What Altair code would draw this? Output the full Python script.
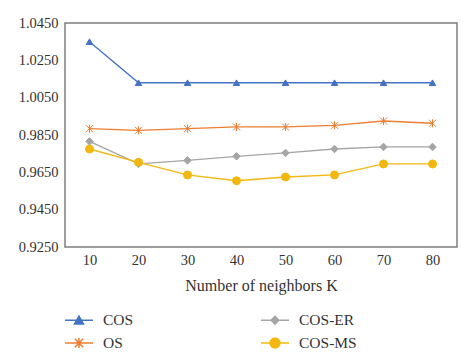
import altair as alt
import pandas as pd

k_values = [10, 20, 30, 40, 50, 60, 70, 80]
cos_vals = [1.0350, 1.0130, 1.0130, 1.0130, 1.0130, 1.0130, 1.0130, 1.0130]
os_vals = [0.9884, 0.9875, 0.9884, 0.9893, 0.9893, 0.9902, 0.9925, 0.9913]
cos_er_vals = [0.9816, 0.9695, 0.9714, 0.9736, 0.9754, 0.9775, 0.9786, 0.9786]
cos_ms_vals = [0.9775, 0.9704, 0.9636, 0.9605, 0.9625, 0.9636, 0.9695, 0.9695]

series_names = ["COS", "OS", "COS-ER", "COS-MS"]
series_colors = ["#4472C4", "#ED7D31", "#A5A5A5", "#F2B80F"]
y_ticks = [0.9250, 0.9450, 0.9650, 0.9850, 1.0050, 1.0250, 1.0450]

# marker styles for plot
marker_shapes = ["triangle-up", "M-1,-1L1,1M-1,1L1,-1M0,-1.15L0,1.15", "diamond", "circle"]
marker_sizes = [42, 64, 36, 40]

# legend (line + marker) symbols
legend_shapes = [
    "M-2,0L2,0M0,-0.6L0.64,0.55L-0.64,0.55Z",
    "M-2,0L2,0M-0.6,-0.6L0.6,0.6M-0.6,0.6L0.6,-0.6M0,-0.7L0,0.7",
    "M-2,0L2,0M0,-0.55L0.55,0L0,0.55L-0.55,0Z",
    "M-2,0L2,0M-0.7,0A0.7,0.7,0,1,0,0.7,0A0.7,0.7,0,1,0,-0.7,0Z",
]

rows = []
for name, vals in zip(series_names, [cos_vals, os_vals, cos_er_vals, cos_ms_vals]):
    for k, v in zip(k_values, vals):
        rows.append({"k": k, "value": v, "series": name})
df = pd.DataFrame(rows)

FONT = "Liberation Serif"
TEXT = "#333333"

x_enc = alt.X(
    "k:O",
    scale=alt.Scale(type="point", padding=0.5),
    axis=alt.Axis(
        title="Number of neighbors K",
        labelAngle=0,
        ticks=False,
        domain=False,
        grid=False,
        labelPadding=6,
        titlePadding=11,
        labelFont=FONT,
        labelFontSize=14.5,
        labelColor=TEXT,
        titleFont=FONT,
        titleFontSize=16,
        titleFontWeight="normal",
        titleColor=TEXT,
    ),
)
y_enc = alt.Y(
    "value:Q",
    scale=alt.Scale(domain=[y_ticks[0], y_ticks[-1]], nice=False, zero=False),
    axis=alt.Axis(
        values=y_ticks,
        format=".4f",
        title=None,
        ticks=False,
        domain=False,
        grid=False,
        labelPadding=7,
        labelFont=FONT,
        labelFontSize=14.5,
        labelColor=TEXT,
    ),
)

base = alt.Chart(df)

lines = base.mark_line(strokeWidth=1.3).encode(
    x=x_enc,
    y=y_enc,
    color=alt.Color(
        "series:N",
        scale=alt.Scale(domain=series_names, range=series_colors),
        legend=None,
    ),
    detail="series:N",
)

markers = base.mark_point(filled=True, strokeWidth=1, opacity=1).encode(
    x=x_enc,
    y=y_enc,
    color=alt.Color(
        "series:N",
        scale=alt.Scale(domain=series_names, range=series_colors),
        legend=None,
    ),
    stroke=alt.Stroke(
        "series:N",
        scale=alt.Scale(domain=series_names, range=series_colors),
        legend=None,
    ),
    shape=alt.Shape(
        "series:N",
        scale=alt.Scale(domain=series_names, range=marker_shapes),
        legend=None,
    ),
    size=alt.Size(
        "series:N",
        scale=alt.Scale(domain=series_names, range=marker_sizes),
        legend=None,
    ),
)

legend_spec = alt.Legend(
    title=None,
    orient="none",
    legendX=6,
    legendY=289,
    columns=2,
    columnPadding=124,
    rowPadding=6,
    symbolSize=196,
    symbolStrokeWidth=1.5,
    labelOffset=16,
    labelFont=FONT,
    labelFontSize=15.5,
    labelColor=TEXT,
    padding=0,
)

legend_layer = (
    base.transform_filter("false")
    .mark_point(filled=True, opacity=1)
    .encode(
        x=x_enc,
        y=y_enc,
        color=alt.Color(
            "series:N",
            scale=alt.Scale(domain=series_names, range=series_colors),
            legend=legend_spec,
        ),
        stroke=alt.Stroke(
            "series:N",
            scale=alt.Scale(domain=series_names, range=series_colors),
            legend=legend_spec,
        ),
        shape=alt.Shape(
            "series:N",
            scale=alt.Scale(domain=series_names, range=legend_shapes),
            legend=legend_spec,
        ),
    )
)

chart = (
    alt.layer(lines, markers, legend_layer)
    .resolve_scale(color="independent", stroke="independent", shape="independent", size="independent")
    .properties(
        width=392,
        height=224,
        background="white",
        autosize=alt.AutoSizeParams(type="none"),
        padding={"left": 57, "top": 15, "right": 9, "bottom": 109},
    )
    .configure_view(stroke="#7f7f7f", strokeWidth=1.5)
)

chart.save("out.html", embed_options={"renderer": "svg", "actions": False})
